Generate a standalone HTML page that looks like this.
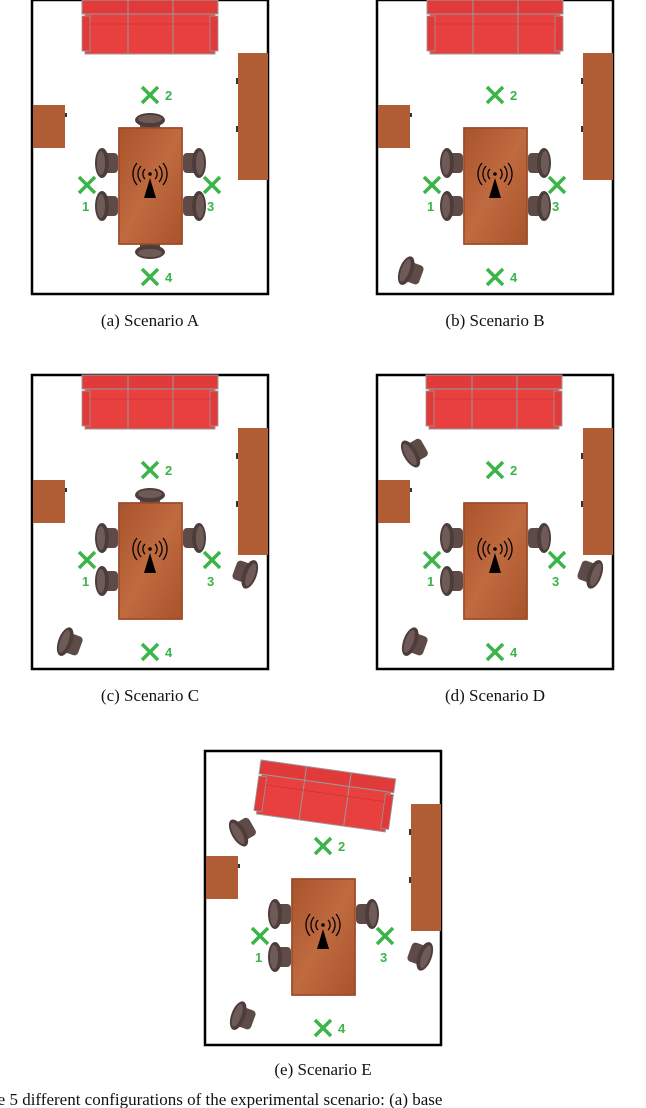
<!DOCTYPE html>
<html><head><meta charset="utf-8"><style>
html,body{margin:0;padding:0;background:#fff;width:646px;height:1108px;overflow:hidden}
svg{display:block}
.cap{font-family:"Liberation Serif",serif;font-size:17px;fill:#111}
.num{font-family:"Liberation Sans",sans-serif;font-size:13px;font-weight:bold;fill:#3bb54a}
</style></head><body>
<svg width="646" height="1108" viewBox="0 0 646 1108" xmlns="http://www.w3.org/2000/svg">
<defs>
<linearGradient id="wood" x1="0" y1="0" x2="1" y2="1">
<stop offset="0" stop-color="#a9532c"/><stop offset="0.5" stop-color="#c06a40"/><stop offset="1" stop-color="#a9532c"/>
</linearGradient>
<g id="chair">
<rect x="-10" y="-3" width="20" height="15" rx="4" fill="#5e4a46"/>
<ellipse cx="0" cy="-4" rx="15" ry="7" fill="#4d3d3a"/>
<ellipse cx="0" cy="-5" rx="12" ry="4" fill="#6e5a56"/>
</g>
<g id="sofa">
<rect x="0" y="0" width="136" height="14" fill="#e03a3a" stroke="#999" stroke-width="1"/>
<rect x="3" y="14" width="130" height="40" fill="#e8403f" stroke="#999" stroke-width="1"/>
<rect x="0" y="16" width="8" height="35" fill="#e03a3a" stroke="#999" stroke-width="0.8"/>
<rect x="128" y="16" width="8" height="35" fill="#e03a3a" stroke="#999" stroke-width="0.8"/>
<line x1="46" y1="0" x2="46" y2="54" stroke="#999"/>
<line x1="91" y1="0" x2="91" y2="54" stroke="#999"/>
<line x1="8" y1="24" x2="128" y2="24" stroke="#c33" stroke-width="0.8"/>
</g>
<g id="x">
<path d="M-8,-8 L8,8 M8,-8 L-8,8" stroke="#3bb54a" stroke-width="3.5"/>
</g>
<g id="ant">
<path d="M0,-6 L-6,14 L6,14 Z" fill="#000"/>
<circle cx="0" cy="-10" r="1.8" fill="#000"/>
<path d="M-5,-15 A7,7 0 0,0 -5,-5 M5,-15 A7,7 0 0,1 5,-5 M-9,-18 A12,12 0 0,0 -9,-2 M9,-18 A12,12 0 0,1 9,-2 M-13,-21 A17,17 0 0,0 -13,1 M13,-21 A17,17 0 0,1 13,1" stroke="#000" stroke-width="1.3" fill="none"/>
</g>
<g id="base">
<rect x="0" y="0" width="236" height="294" fill="#fff" stroke="#000" stroke-width="2.5"/>
<rect x="206" y="53" width="30" height="127" fill="#b05c35"/>
<rect x="204" y="78" width="2" height="6" fill="#333"/><rect x="204" y="126" width="2" height="6" fill="#333"/>
<rect x="1" y="105" width="32" height="43" fill="#b05c35"/>
<rect x="33" y="113" width="2" height="4" fill="#333"/>
<use href="#chair" transform="translate(74,163) rotate(-90)"/>
<use href="#chair" transform="translate(74,206) rotate(-90)"/>
<use href="#chair" transform="translate(163,163) rotate(90)"/>
<rect x="87" y="128" width="63" height="116" fill="url(#wood)" stroke="#9a4a26" stroke-width="1.5"/>
<use href="#ant" transform="translate(118,184)"/>
<use href="#x" transform="translate(118,95)"/><text class="num" x="133" y="100">2</text>
<use href="#x" transform="translate(55,185)"/><text class="num" x="50" y="211">1</text>
<use href="#x" transform="translate(180,185)"/><text class="num" x="175" y="211">3</text>
<use href="#x" transform="translate(118,277)"/><text class="num" x="133" y="282">4</text>
</g>
</defs>

<g transform="translate(32,0)">
<use href="#base"/>
<use href="#sofa" transform="translate(50,0)"/>
<use href="#chair" transform="translate(118,124)"/>
<use href="#chair" transform="translate(118,248) rotate(180)"/>
<use href="#chair" transform="translate(163,206) rotate(90)"/>
<rect x="87" y="128" width="63" height="116" fill="url(#wood)" stroke="#9a4a26" stroke-width="1.5"/>
<use href="#ant" transform="translate(118,184)"/>
</g>
<text class="cap" x="150" y="326" text-anchor="middle">(a) Scenario A</text>

<g transform="translate(377,0)">
<use href="#base"/>
<use href="#sofa" transform="translate(50,0)"/>
<use href="#chair" transform="translate(163,206) rotate(90)"/>
<rect x="87" y="128" width="63" height="116" fill="url(#wood)" stroke="#9a4a26" stroke-width="1.5"/>
<use href="#ant" transform="translate(118,184)"/>
<use href="#chair" transform="translate(33,272) rotate(-70)"/>
</g>
<text class="cap" x="495" y="326" text-anchor="middle">(b) Scenario B</text>

<g transform="translate(32,375)">
<use href="#base"/>
<use href="#sofa" transform="translate(50,0)"/>
<use href="#chair" transform="translate(118,124)"/>
<rect x="87" y="128" width="63" height="116" fill="url(#wood)" stroke="#9a4a26" stroke-width="1.5"/>
<use href="#ant" transform="translate(118,184)"/>
<use href="#chair" transform="translate(214,198) rotate(110)"/>
<use href="#chair" transform="translate(37,268) rotate(-70)"/>
</g>
<text class="cap" x="150" y="701" text-anchor="middle">(c) Scenario C</text>

<g transform="translate(377,375)">
<use href="#base"/>
<use href="#sofa" transform="translate(49,0)"/>
<rect x="87" y="128" width="63" height="116" fill="url(#wood)" stroke="#9a4a26" stroke-width="1.5"/>
<use href="#ant" transform="translate(118,184)"/>
<use href="#chair" transform="translate(37,77) rotate(-120)"/>
<use href="#chair" transform="translate(214,198) rotate(110)"/>
<use href="#chair" transform="translate(37,268) rotate(-70)"/>
</g>
<text class="cap" x="495" y="701" text-anchor="middle">(d) Scenario D</text>

<g transform="translate(205,751)">
<use href="#base"/>
<use href="#sofa" transform="translate(56,9) rotate(8)"/>
<rect x="87" y="128" width="63" height="116" fill="url(#wood)" stroke="#9a4a26" stroke-width="1.5"/>
<use href="#ant" transform="translate(118,184)"/>
<use href="#chair" transform="translate(37,80) rotate(-120)"/>
<use href="#chair" transform="translate(216,204) rotate(110)"/>
<use href="#chair" transform="translate(37,266) rotate(-70)"/>
</g>
<text class="cap" x="323" y="1075" text-anchor="middle">(e) Scenario E</text>

<text class="cap" x="-8" y="1105" font-size="18">re 5 different configurations of the experimental scenario: (a) base</text>
</svg>
</body></html>
